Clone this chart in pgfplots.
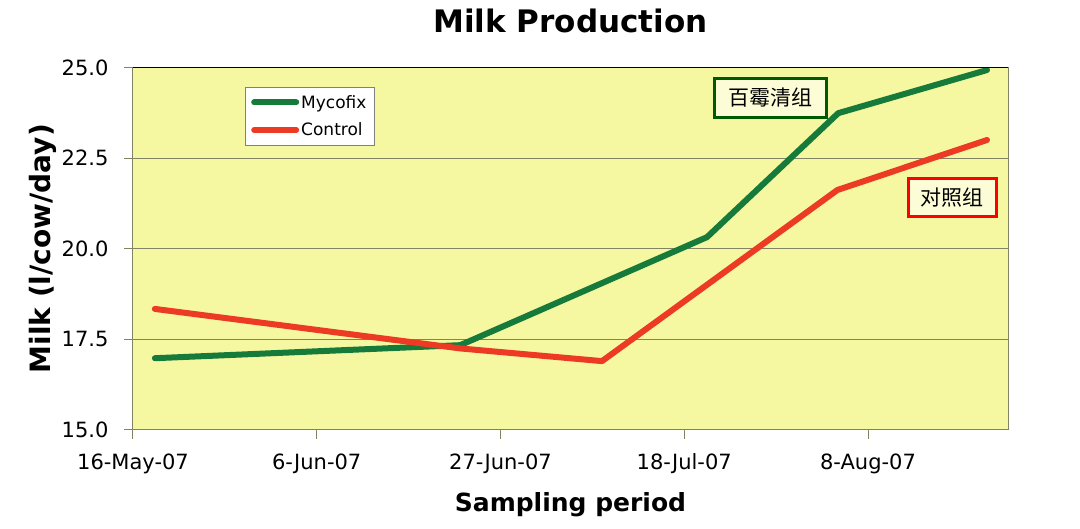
\documentclass[border=0pt]{standalone}
\usepackage{pgfplots}
\pgfplotsset{compat=1.18}
\usepackage{fontspec}
\setmainfont{DejaVu Sans}
\newfontfamily\cjk{Noto Sans CJK SC}
\definecolor{bgy}{RGB}{245,248,160}
\definecolor{gridc}{RGB}{130,130,100}
\definecolor{myco}{RGB}{22,122,58}
\definecolor{ctrl}{RGB}{236,58,36}
\definecolor{boxg}{RGB}{0,90,0}
\definecolor{boxfill}{RGB}{252,252,215}
\begin{document}
\begin{tikzpicture}
\path[use as bounding box] (-133pt,-99pt) rectangle (947pt,430pt);
\begin{axis}[
  at={(0,0)}, anchor=south west,
  scale only axis, width=875pt, height=362.5pt,
  xmin=0, xmax=100, ymin=15, ymax=25,
  axis background/.style={fill=bgy},
  xtick={0,21,42,63,84},
  xticklabels={16-May-07,6-Jun-07,27-Jun-07,18-Jul-07,8-Aug-07},
  ytick={15,17.5,20,22.5,25},
  yticklabel style={xshift=-12pt, /pgf/number format/.cd,fixed,fixed zerofill,precision=1},
  /pgf/number format/assume math mode=true,
  ticklabel style={font=\fontsize{21}{24}\selectfont, text=black},
  xticklabel style={yshift=-11pt},
  tick align=outside, tick pos=left,
  major tick length=9pt,
  tick style={gridc, line width=1pt},
  ymajorgrids, grid style={gridc, line width=1pt},
  axis line style={gridc, line width=1pt},
  title={\bfseries Milk Production},
  title style={font=\fontsize{31}{35}\selectfont, at={(0.5,1)}, anchor=south, yshift=25pt},
  xlabel={\bfseries Sampling period},
  ylabel={\bfseries Milk (l/cow/day)},
  xlabel style={font=\fontsize{25}{29}\selectfont, yshift=-12pt},
  ylabel style={font=\fontsize{28}{32}\selectfont, yshift=-2pt},
  legend style={at={(0.128,0.946)}, anchor=north west, fill=white, draw=gray,
    font=\fontsize{17}{20}\selectfont, row sep=9pt, inner sep=6pt},
  legend cell align=left,
  legend image code/.code={\draw[#1, line width=6pt, line cap=round] (0pt,0pt) -- (42pt,0pt);},
  clip=false,
]
\addplot[myco, line width=6pt, line cap=round, line join=round] coordinates {
  (2.5,16.98) (37.4,17.34) (65.6,20.32) (80.6,23.74) (97.6,24.93)};
\addlegendentry{Mycofix}
\addplot[ctrl, line width=6pt, line cap=round, line join=round] coordinates {
  (2.5,18.34) (37.4,17.25) (53.6,16.90) (80.5,21.62) (97.6,23.0)};
\addlegendentry{Control}
\draw[black, line width=1.2pt] (axis cs:0,25) -- (axis cs:100,25);
\node[draw=boxg, line width=3pt, fill=boxfill, minimum width=112pt, minimum height=39pt, font=\cjk\fontsize{21}{24}\selectfont]
  at (axis cs:72.8,24.16) {百霉清组};
\node[draw=red, line width=3pt, fill=boxfill, minimum width=88pt, minimum height=38pt, font=\cjk\fontsize{21}{24}\selectfont]
  at (axis cs:93.6,21.4) {对照组};
\end{axis}
\end{tikzpicture}
\end{document}
